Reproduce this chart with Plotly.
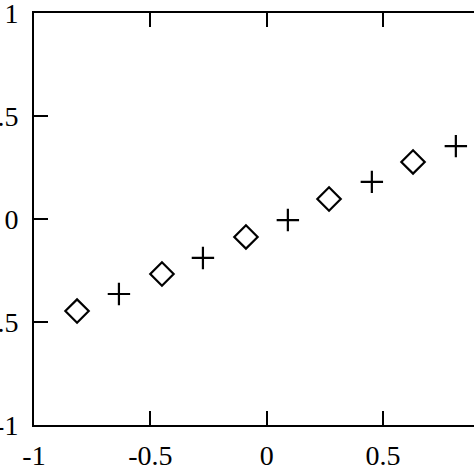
import plotly.graph_objects as go

# points
diamond_x = [-0.815, -0.450, -0.089, 0.268, 0.629]
diamond_y = [-0.447, -0.267, -0.087, 0.097, 0.277]
plus_x = [-0.635, -0.274, 0.091, 0.452, 0.813]
plus_y = [-0.364, -0.189, -0.005, 0.180, 0.354]

x_ticks = [-1, -0.5, 0, 0.5]
x_labels = ["-1", "-0.5", "0", "0.5"]
y_ticks = [-1, -0.5, 0, 0.5, 1]
y_labels = ["-1", "-0.5", "0", "0.5", "1"]

font = dict(family="Liberation Serif, DejaVu Serif, serif", size=28, color="black")

fig = go.Figure()
fig.add_trace(go.Scatter(x=diamond_x, y=diamond_y, mode="markers",
                         marker=dict(symbol="diamond-open", size=18, color="black",
                                     line=dict(width=2.2, color="black"))))
fig.add_trace(go.Scatter(x=plus_x, y=plus_y, mode="markers",
                         marker=dict(symbol="cross-thin-open", size=16, color="black",
                                     line=dict(width=2.2, color="black"))))

fig.update_layout(
    width=474, height=474,
    margin=dict(l=34, r=0, t=13, b=49),
    paper_bgcolor="white", plot_bgcolor="white",
    showlegend=False,
    font=font,
    xaxis=dict(range=[-1, 1.891 - 1], tickvals=x_ticks, ticktext=x_labels,
               showgrid=False, zeroline=False, showline=True, linecolor="black",
               linewidth=2, mirror="ticks", ticks="inside", ticklen=14,
               tickwidth=2, tickcolor="black", ticklabelstandoff=4,
               ticklabeloverflow="allow", automargin=False),
    yaxis=dict(range=[-1, 1], tickvals=y_ticks, ticktext=y_labels,
               showgrid=False, zeroline=False, showline=True, linecolor="black",
               linewidth=2, mirror=False, ticks="inside", ticklen=14,
               tickwidth=2, tickcolor="black", ticklabelstandoff=8,
               ticklabeloverflow="allow", automargin=False),
)

# the page's default body margin shifts the plot, so drop it
fig.write_html("out.html", config={"displayModeBar": False},
               post_script="document.body.style.margin='0';")
